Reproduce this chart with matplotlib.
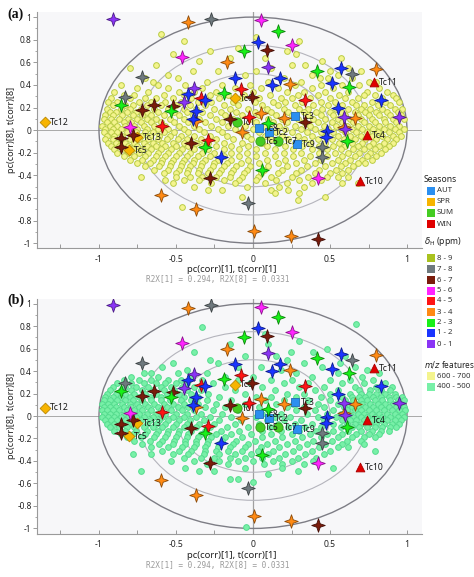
import numpy as np
import matplotlib
matplotlib.use('Agg')
import matplotlib.pyplot as plt
from matplotlib.path import Path
from matplotlib.patches import Circle, Rectangle
from matplotlib.ticker import MultipleLocator, FuncFormatter

plt.rcParams['font.family'] = ['Noto Sans', 'DejaVu Sans']
plt.rcParams['axes.unicode_minus'] = False

W, H = 474, 577

# ---------------- data ----------------
# background feature cloud, panel (a): m/z 600-700  (rows: y, list of x)
cloud_a_rows = [
    (0.85, [-0.60]), (0.82, [0.02]), (0.79, [-0.45, 0.30]), (0.73, [-0.10]),
    (0.70, [0.22, -0.28]), (0.67, [0.28, -0.52]), (0.64, [0.57, -0.15, 0.08]),
    (0.61, [-0.35, 0.45]), (0.58, [-0.63, 0.25, 0.34]), (0.55, [0.12, -0.80, 0.62]),
    (0.52, [-0.39, -0.23, 0.02, 0.50, 0.70]), (0.49, [-0.55, -0.05, 0.38, 0.55]),
    (0.46, [-0.70, -0.49, 0.20, 0.435, 0.49, 0.64]),
    (0.43, [-0.65, -0.30, 0.10, 0.31, 0.75, 0.80]),
    (0.40, [-0.86, -0.62, -0.44, -0.20, -0.02, 0.27, 0.44, 0.58, 0.69]),
    (0.37, [-0.755, -0.55, -0.33, -0.12, 0.05, 0.16, 0.38, 0.52, 0.82]),
    (0.34, [-0.90, -0.68, -0.48, -0.38, -0.24, 0.00, 0.22, 0.33, 0.47, 0.62, 0.74, 0.87]),
    (0.31, [-0.84, -0.77, -0.58, -0.45, -0.28, -0.16, -0.06, 0.11, 0.29, 0.42, 0.56, 0.72, 0.79, 0.91]),
    (0.28, [-0.92, -0.80, -0.70, -0.63, -0.52, -0.40, -0.22, -0.08, 0.04, 0.18, 0.25, 0.37, 0.50, 0.60, 0.68, 0.84, 0.93]),
    (0.25, [-0.94, -0.88, -0.74, -0.66, -0.57, -0.47, -0.36, -0.27, -0.13, 0.01, 0.13, 0.21, 0.32, 0.44, 0.53, 0.64, 0.77, 0.86, 0.95]),
    (0.22, [-0.91, -0.83, -0.78, -0.69, -0.60, -0.50, -0.41, -0.31, -0.19, -0.10, 0.06, 0.16, 0.27, 0.39, 0.49, 0.58, 0.67, 0.72, 0.81, 0.89]),
    (0.19, [-0.95, -0.86, -0.80, -0.73, -0.64, -0.55, -0.45, -0.37, -0.25, -0.15, -0.03, 0.09, 0.20, 0.30, 0.36, 0.45, 0.54, 0.62, 0.70, 0.76, 0.84, 0.92, 0.97]),
    (0.16, [-0.93, -0.89, -0.82, -0.76, -0.69, -0.62, -0.51, -0.43, -0.33, -0.21, -0.11, 0.01, 0.12, 0.23, 0.33, 0.41, 0.50, 0.57, 0.66, 0.73, 0.80, 0.87, 0.94]),
    (0.13, [-0.96, -0.91, -0.85, -0.78, -0.72, -0.66, -0.58, -0.48, -0.39, -0.28, -0.18, -0.07, 0.04, 0.15, 0.25, 0.36, 0.44, 0.52, 0.60, 0.68, 0.75, 0.82, 0.89, 0.96]),
    (0.10, [-0.97, -0.92, -0.87, -0.81, -0.75, -0.69, -0.63, -0.54, -0.45, -0.35, -0.24, -0.13, -0.02, 0.10, 0.19, 0.29, 0.39, 0.47, 0.55, 0.63, 0.70, 0.77, 0.85, 0.91, 0.98]),
    (0.07, [-0.95, -0.90, -0.84, -0.79, -0.73, -0.66, -0.60, -0.51, -0.42, -0.31, -0.20, -0.09, 0.02, 0.13, 0.22, 0.33, 0.42, 0.51, 0.58, 0.65, 0.72, 0.79, 0.86, 0.93]),
    (0.04, [-0.98, -0.93, -0.88, -0.83, -0.77, -0.71, -0.64, -0.57, -0.48, -0.38, -0.27, -0.16, -0.05, 0.07, 0.17, 0.27, 0.37, 0.46, 0.54, 0.61, 0.68, 0.75, 0.82, 0.89, 0.95]),
    (0.01, [-0.96, -0.91, -0.86, -0.81, -0.75, -0.69, -0.62, -0.55, -0.45, -0.35, -0.23, -0.12, 0.00, 0.11, 0.21, 0.31, 0.40, 0.49, 0.57, 0.64, 0.71, 0.78, 0.85, 0.92, 0.98]),
    (-0.02, [-0.97, -0.92, -0.88, -0.82, -0.76, -0.70, -0.65, -0.58, -0.51, -0.42, -0.32, -0.20, -0.08, 0.04, 0.15, 0.25, 0.35, 0.44, 0.52, 0.60, 0.67, 0.74, 0.81, 0.88, 0.95]),
    (-0.05, [-0.95, -0.90, -0.85, -0.79, -0.73, -0.67, -0.61, -0.54, -0.47, -0.38, -0.28, -0.17, -0.04, 0.08, 0.19, 0.29, 0.38, 0.47, 0.55, 0.63, 0.70, 0.77, 0.84, 0.91, 0.96]),
    (-0.08, [-0.96, -0.91, -0.86, -0.80, -0.74, -0.68, -0.62, -0.56, -0.49, -0.43, -0.34, -0.24, -0.13, -0.01, 0.12, 0.23, 0.33, 0.42, 0.51, 0.59, 0.66, 0.73, 0.80, 0.87, 0.93]),
    (-0.11, [-0.94, -0.89, -0.83, -0.77, -0.71, -0.65, -0.59, -0.52, -0.45, -0.37, -0.29, -0.19, -0.07, 0.06, 0.17, 0.27, 0.37, 0.47, 0.56, 0.64, 0.71, 0.78, 0.85, 0.91]),
    (-0.14, [-0.92, -0.87, -0.81, -0.75, -0.69, -0.63, -0.57, -0.50, -0.42, -0.33, -0.24, -0.14, -0.03, 0.09, 0.21, 0.32, 0.43, 0.52, 0.60, 0.68, 0.75, 0.82, 0.88]),
    (-0.17, [-0.90, -0.84, -0.78, -0.72, -0.66, -0.60, -0.53, -0.46, -0.38, -0.29, -0.19, -0.09, 0.02, 0.14, 0.26, 0.38, 0.48, 0.57, 0.65, 0.72, 0.79, 0.86]),
    (-0.20, [-0.88, -0.81, -0.74, -0.68, -0.62, -0.55, -0.48, -0.41, -0.33, -0.25, -0.14, -0.04, 0.08, 0.20, 0.31, 0.43, 0.53, 0.62, 0.69, 0.76, 0.83]),
    (-0.23, [-0.84, -0.77, -0.70, -0.63, -0.57, -0.50, -0.43, -0.36, -0.28, -0.19, -0.09, 0.02, 0.14, 0.26, 0.37, 0.48, 0.58, 0.66, 0.74, 0.80]),
    (-0.26, [-0.80, -0.72, -0.65, -0.59, -0.52, -0.45, -0.38, -0.31, -0.23, -0.14, -0.03, 0.09, 0.21, 0.33, 0.44, 0.55, 0.63, 0.71, 0.77]),
    (-0.29, [-0.75, -0.67, -0.60, -0.53, -0.46, -0.39, -0.33, -0.25, -0.17, -0.08, 0.04, 0.16, 0.28, 0.40, 0.51, 0.60, 0.68, 0.73]),
    (-0.32, [-0.70, -0.61, -0.54, -0.47, -0.41, -0.34, -0.26, -0.19, -0.11, -0.02, 0.10, 0.22, 0.35, 0.47, 0.57, 0.65]),
    (-0.35, [-0.64, -0.55, -0.48, -0.42, -0.35, -0.28, -0.21, -0.13, -0.04, 0.07, 0.19, 0.31, 0.43, 0.54, 0.62]),
    (-0.38, [-0.58, -0.50, -0.43, -0.36, -0.29, -0.22, -0.14, -0.06, 0.05, 0.16, 0.28, 0.40, 0.50, 0.58]),
    (-0.41, [-0.73, -0.50, -0.41, -0.33, -0.24, -0.15, -0.07, 0.03, 0.12, 0.25, 0.36, 0.48, 0.55, 0.62]),
    (-0.44, [-0.57, -0.45, -0.35, -0.19, -0.09, 0.02, 0.15, 0.30, 0.44]),
    (-0.47, [-0.52, -0.27, -0.12, 0.08, 0.22, 0.38, 0.58, 0.68]),
    (-0.50, [-0.38, -0.04, 0.17, 0.33]),
    (-0.53, [-0.29, -0.20, 0.12, 0.23]),
    (-0.56, [0.14, 0.30]),
    (-0.59, [-0.07, 0.47]),
    (-0.62, [0.29]),
    (-0.68, [-0.46]),
]

# background feature cloud, panel (b): m/z 400-500
cloud_b_rows = [
    (0.82, [0.67]), (0.79, [-0.33]), (0.73, [0.08]), (0.67, [0.30]),
    (0.64, [-0.15, 0.10]), (0.60, [0.48]), (0.57, [-0.38, 0.245, 0.39]),
    (0.53, [-0.05, 0.15, 0.60]), (0.50, [-0.28, 0.22]),
    (0.47, [-0.225, 0.33, 0.565, -0.52]), (0.44, [-0.59, -0.10, 0.05, 0.45, 0.66]),
    (0.41, [-0.43, 0.18, 0.74]),
    (0.38, [-0.66, -0.485, -0.71, -0.30, 0.28, 0.55, 0.82]),
    (0.35, [-0.79, -0.62, -0.40, -0.18, 0.00, 0.38, 0.705]),
    (0.32, [-0.84, -0.74, -0.66, -0.55, -0.47, -0.33, -0.10, 0.12, 0.25, 0.50, 0.63, 0.78]),
    (0.29, [-0.88, -0.79, -0.71, -0.63, -0.57, -0.50, -0.43, -0.26, -0.02, 0.20, 0.36, 0.58, 0.72, 0.86]),
    (0.26, [-0.91, -0.83, -0.76, -0.68, -0.60, -0.53, -0.46, -0.38, -0.18, 0.06, 0.30, 0.46, 0.66, 0.80, 0.90]),
    (0.23, [-0.93, -0.86, -0.79, -0.72, -0.65, -0.58, -0.51, -0.43, -0.34, -0.12, 0.14, 0.40, 0.55, 0.69, 0.76, 0.83, 0.89]),
    (0.20, [-0.95, -0.89, -0.83, -0.77, -0.70, -0.63, -0.56, -0.48, -0.40, -0.29, -0.05, 0.22, 0.33, 0.50, 0.63, 0.70, 0.75, 0.80, 0.86, 0.92]),
    (0.17, [-0.96, -0.91, -0.86, -0.80, -0.74, -0.67, -0.60, -0.53, -0.45, -0.36, -0.22, 0.02, 0.12, 0.28, 0.44, 0.58, 0.64, 0.69, 0.73, 0.78, 0.83, 0.88, 0.93, 0.97]),
    (0.14, [-0.97, -0.93, -0.88, -0.83, -0.78, -0.72, -0.66, -0.60, -0.54, -0.47, -0.40, -0.30, -0.14, 0.08, 0.20, 0.36, 0.50, 0.60, 0.65, 0.70, 0.74, 0.79, 0.84, 0.89, 0.94, 0.98]),
    (0.11, [-0.98, -0.94, -0.90, -0.85, -0.80, -0.75, -0.70, -0.64, -0.58, -0.52, -0.45, -0.36, -0.24, -0.05, 0.15, 0.26, 0.42, 0.55, 0.62, 0.67, 0.71, 0.76, 0.81, 0.86, 0.91, 0.96]),
    (0.08, [-0.97, -0.93, -0.89, -0.84, -0.79, -0.74, -0.68, -0.62, -0.56, -0.49, -0.42, -0.31, -0.18, 0.04, 0.22, 0.33, 0.46, 0.59, 0.64, 0.68, 0.73, 0.78, 0.83, 0.88, 0.93, 0.98]),
    (0.05, [-0.98, -0.95, -0.91, -0.87, -0.82, -0.77, -0.72, -0.66, -0.60, -0.53, -0.46, -0.38, -0.26, -0.10, 0.10, 0.28, 0.40, 0.52, 0.61, 0.66, 0.70, 0.75, 0.80, 0.85, 0.90, 0.95, 0.99]),
    (0.02, [-0.97, -0.93, -0.89, -0.84, -0.79, -0.74, -0.69, -0.63, -0.57, -0.50, -0.43, -0.34, -0.20, 0.06, 0.18, 0.35, 0.48, 0.57, 0.63, 0.68, 0.72, 0.77, 0.82, 0.87, 0.92, 0.97]),
    (-0.01, [-0.98, -0.94, -0.90, -0.86, -0.81, -0.76, -0.71, -0.65, -0.59, -0.52, -0.45, -0.37, -0.28, -0.14, 0.02, 0.14, 0.24, 0.42, 0.54, 0.60, 0.65, 0.70, 0.74, 0.79, 0.84, 0.89, 0.94, 0.98]),
    (-0.04, [-0.96, -0.92, -0.88, -0.83, -0.78, -0.73, -0.67, -0.61, -0.55, -0.48, -0.41, -0.32, -0.22, -0.08, 0.09, 0.20, 0.31, 0.46, 0.58, 0.63, 0.67, 0.72, 0.77, 0.82, 0.87, 0.92, 0.96]),
    (-0.07, [-0.95, -0.90, -0.85, -0.80, -0.75, -0.69, -0.63, -0.57, -0.50, -0.43, -0.35, -0.25, -0.12, 0.04, 0.16, 0.27, 0.38, 0.52, 0.61, 0.66, 0.70, 0.75, 0.80, 0.85, 0.90, 0.95]),
    (-0.10, [-0.93, -0.87, -0.82, -0.77, -0.71, -0.65, -0.59, -0.52, -0.45, -0.37, -0.28, -0.17, -0.03, 0.11, 0.23, 0.34, 0.44, 0.57, 0.64, 0.69, 0.74, 0.79, 0.84, 0.89, 0.93]),
    (-0.13, [-0.90, -0.83, -0.76, -0.69, -0.62, -0.55, -0.48, -0.40, -0.31, -0.21, -0.09, 0.06, 0.18, 0.30, 0.41, 0.52, 0.62, 0.70, 0.77, 0.83, 0.88]),
    (-0.16, [-0.86, -0.78, -0.70, -0.63, -0.56, -0.49, -0.42, -0.34, -0.24, -0.14, -0.01, 0.12, 0.25, 0.37, 0.48, 0.58, 0.67, 0.75, 0.82]),
    (-0.19, [-0.82, -0.73, -0.64, -0.57, -0.50, -0.43, -0.36, -0.27, -0.18, -0.07, 0.06, 0.19, 0.32, 0.44, 0.55, 0.64, 0.72, 0.79]),
    (-0.22, [-0.77, -0.67, -0.59, -0.51, -0.44, -0.37, -0.29, -0.20, -0.11, 0.01, 0.14, 0.27, 0.39, 0.51, 0.61, 0.70]),
    (-0.25, [-0.72, -0.61, -0.52, -0.44, -0.37, -0.30, -0.22, -0.13, -0.03, 0.09, 0.22, 0.35, 0.47, 0.58, 0.72]),
    (-0.28, [-0.66, -0.55, -0.46, -0.38, -0.31, -0.23, -0.15, -0.05, 0.05, 0.17, 0.30, 0.43, 0.55, 0.62]),
    (-0.31, [-0.59, -0.48, -0.40, -0.31, -0.24, -0.16, -0.07, 0.03, 0.13, 0.26, 0.38, 0.50, 0.79]),
    (-0.34, [-0.78, -0.66, -0.52, -0.42, -0.32, -0.22, -0.12, -0.01, 0.10, 0.21, 0.34, 0.46]),
    (-0.37, [-0.45, -0.34, -0.25, -0.15, -0.05, 0.06, 0.17, 0.29, 0.41]),
    (-0.40, [-0.53, -0.38, -0.22, -0.10, 0.00, 0.13, 0.25, 0.39]),
    (-0.43, [-0.30, -0.16, 0.07, 0.19, 0.33]),
    (-0.46, [-0.44, 0.52, 0.19, -0.05]),
    (-0.49, [-0.73, -0.35, -0.25, 0.295]),
    (-0.52, [0.10]),
    (-0.56, [-0.10, -0.15]),
    (-0.59, [0.00]),
    (-0.99, [-0.045]),
]

# delta-H classes (stars)
dh_classes = ['8 - 9', '7 - 8', '6 - 7', '5 - 6', '4 - 5', '3 - 4', '2 - 3', '1 - 2', '0 - 1']
dh_colors = ['#a9c21f', '#6f797e', '#7a1c0c', '#ff24ff', '#ff1414', '#ff8a14', '#18f018', '#1a34ff', '#8a34f5']
dh_points = {
    '8 - 9': [],
    '7 - 8': [(-0.27, 0.985), (-0.72, 0.47), (-0.83, 0.29), (0.645, 0.50), (0.45, -0.15),
              (0.45, -0.24), (-0.03, -0.64)],
    '6 - 7': [(-0.72, 0.18), (-0.64, 0.22), (-0.52, 0.21), (-0.15, 0.10), (-0.86, -0.07),
              (-0.78, -0.04), (-0.86, -0.15), (-0.40, -0.11), (-0.28, -0.42), (0.09, 0.71),
              (-0.005, 0.295), (0.34, 0.07), (0.425, -0.965)],
    '5 - 6': [(-0.46, 0.65), (-0.80, 0.03), (0.05, 0.97), (0.255, 0.75), (0.42, -0.42)],
    '4 - 5': [(-0.34, 0.28), (-0.08, 0.365), (-0.59, 0.04), (-0.29, -0.09), (0.335, 0.27),
              (-0.025, 0.12)],
    '3 - 4': [(-0.42, 0.96), (-0.17, 0.60), (-0.60, -0.57), (-0.37, -0.70), (0.24, 0.41),
              (0.80, 0.54), (0.055, 0.15), (0.20, 0.11), (0.665, 0.11), (0.59, 0.03),
              (-0.07, -0.015), (0.005, -0.89), (0.245, -0.935), (-0.37, 0.08)],
    '2 - 3': [(-0.19, 0.33), (-0.86, 0.22), (-0.53, 0.165), (-0.31, -0.15), (0.16, 0.88),
              (-0.06, 0.70), (0.415, 0.52), (0.625, 0.38), (0.095, 0.065), (0.61, -0.10),
              (0.06, -0.35)],
    '1 - 2': [(-0.12, 0.46), (-0.42, 0.32), (-0.31, 0.27), (-0.37, 0.17), (-0.39, 0.10),
              (-0.21, -0.24), (0.035, 0.78), (0.175, 0.46), (0.125, 0.40), (0.57, 0.55),
              (0.51, 0.42), (0.83, 0.27), (0.555, 0.20), (0.48, -0.005), (0.475, -0.06)],
    '0 - 1': [(-0.91, 0.985), (-0.38, 0.37), (-0.45, 0.25), (0.10, 0.56), (0.59, 0.12),
              (0.60, 0.01), (0.95, 0.12)],
}

# seasons (labelled samples)
season_names = ['AUT', 'SPR', 'SUM', 'WIN']
season_colors = ['#2b8ff0', '#f7b400', '#44cc22', '#e00000']
season_markers = ['s', 'D', 'o', '^']
season_points = {
    'AUT': [('Tc8', 0.04, 0.02), ('Tc2', 0.105, -0.015), ('Tc3', 0.275, 0.125), ('Tc9', 0.285, -0.12)],
    'SPR': [('Tc12', -1.35, 0.075), ('Tc13', -0.75, -0.06), ('Tc5', -0.805, -0.175), ('Tc6', -0.12, 0.28)],
    'SUM': [('Tc1', -0.105, 0.07), ('Tc5', 0.045, -0.10), ('Tc7', 0.165, -0.10)],
    'WIN': [('Tc4', 0.74, -0.04), ('Tc11', 0.785, 0.425), ('Tc10', 0.695, -0.45)],
}

mz_names = ['600 - 700', '400 - 500']
mz_colors = ['#f4f48e', '#78f0a8']
mz_edges = ['#b9cc44', '#55dc8e']

x_ticks = [-1, -0.5, 0, 0.5, 1]
y_ticks = [-1, -0.8, -0.6, -0.4, -0.2, 0, 0.2, 0.4, 0.6, 0.8, 1]
circle_radii = [1.0, 0.75, 0.5]

xlabel_text = 'pc(corr)[1], t(corr)[1]'
ylabel_text = 'pc(corr)[8], t(corr)[8]'
r2x_text = 'R2X[1] = 0.294, R2X[8] = 0.0331'

# ---------------- helpers ----------------
def darker(c, f=0.6):
    r, g, b = matplotlib.colors.to_rgb(c)
    return (r * f, g * f, b * f)

star = Path.unit_regular_star(4, innerCircle=0.36)

def fx(px):
    return px / W

def fy(py):
    return 1 - py / H

fig = plt.figure(figsize=(W / 100, H / 100), dpi=100)

x_left_px, x_right_px = 37.4, 422.4

def draw_panel(top_px, bottom_px, rows, fc, ec, label, xlab_py, r2_py, zero_py):
    ax = fig.add_axes([fx(x_left_px), fy(bottom_px), (x_right_px - x_left_px) / W,
                       (bottom_px - top_px) / H])
    ax.set_facecolor('#f7f7f9')
    ax.set_xlim(-1.40, 1.10)
    ax.set_ylim(-1.045, 1.045)
    for s in ['top', 'right']:
        ax.spines[s].set_visible(False)
    for s in ['left', 'bottom']:
        ax.spines[s].set_color('#9a9a9a')
        ax.spines[s].set_linewidth(0.8)
    ax.axhline(0, color='#a8a8a8', lw=0.7, zorder=1)
    ax.axvline(0, color='#a0a0a0', lw=0.9, zorder=1)
    for r in circle_radii:
        col = '#7d7d85' if r == 1.0 else '#b4b4bc'
        lw = 1.0 if r == 1.0 else 0.8
        ax.add_patch(Circle((0, 0), r, fill=False, edgecolor=col, lw=lw, zorder=1.5))

    cx = [x for y, xs in rows for x in xs]
    cy = [y for y, xs in rows for x in xs]
    ax.scatter(cx, cy, s=17, facecolor=fc, edgecolor=ec, linewidth=0.7, zorder=2)

    # labelled season samples
    for name, col, mk in zip(season_names, season_colors, season_markers):
        pts = season_points[name]
        sz = {'s': 40, 'D': 30, 'o': 44, '^': 40}[mk]
        ax.scatter([p[1] for p in pts], [p[2] for p in pts], s=sz, marker=mk,
                   facecolor=col, edgecolor=darker(col, 0.75), linewidth=0.6, zorder=3)
        for lab, x, y in pts:
            ax.annotate(lab, (x, y), xytext=(3.8, -0.3), textcoords='offset points',
                        ha='left', va='center', fontsize=6.2, fontweight='bold',
                        color='#151515', zorder=3.5)

    # delta-H stars
    for cls, col in zip(dh_classes, dh_colors):
        pts = dh_points[cls]
        if not pts:
            continue
        ax.scatter([p[0] for p in pts], [p[1] for p in pts], s=95, marker=star,
                   facecolor=col, edgecolor=darker(col, 0.55), linewidth=0.6, zorder=4)

    ax.set_xticks(x_ticks)
    ax.xaxis.set_minor_locator(MultipleLocator(0.25))
    ax.set_yticks(y_ticks)
    ax.yaxis.set_minor_locator(MultipleLocator(0.1))
    fmt = FuncFormatter(lambda v, p: '%g' % round(v, 2))
    ax.xaxis.set_major_formatter(fmt)
    ax.yaxis.set_major_formatter(fmt)
    ax.tick_params(axis='x', direction='in', length=3, width=0.7, color='#9a9a9a',
                   labelsize=6.2, pad=5, labelcolor='#222222')
    ax.tick_params(axis='x', which='minor', direction='in', length=3, width=0.7, color='#9a9a9a')
    ax.tick_params(axis='y', direction='out', length=3, width=0.7, color='#9a9a9a',
                   labelsize=6.0, pad=1.2, labelcolor='#222222')
    ax.tick_params(axis='y', which='minor', direction='out', length=1.8, width=0.6, color='#9a9a9a')

    fig.text(fx(232), fy(xlab_py), xlabel_text, ha='center', va='center', fontsize=6.8,
             color='#222222')
    fig.text(fx(218), fy(r2_py), r2x_text, ha='center', va='center', fontsize=5.6,
             color='#9a9a9a', family='DejaVu Sans Mono')
    fig.text(fx(11.5), fy(zero_py), ylabel_text, ha='center', va='center', fontsize=6.5,
             rotation=90, color='#222222')
    fig.text(fx(7), fy(top_px + 2), label, ha='left', va='center', fontsize=10,
             fontweight='bold', family='Liberation Serif', color='#111111')
    return ax

draw_panel(12, 248.3, cloud_a_rows, mz_colors[0], mz_edges[0], '(a)', 269.5, 279.5, 130)
draw_panel(298.5, 533.5, cloud_b_rows, mz_colors[1], mz_edges[1], '(b)', 555, 565.5, 416)

# ---------------- legend ----------------
sq_x = 427
sq = 8
txt_x = 437

def legend_item(py, col, text):
    fig.add_artist(Rectangle((fx(sq_x), fy(py + sq / 2)), sq / W, sq / H,
                             transform=fig.transFigure, facecolor=col,
                             edgecolor='none', lw=0))
    fig.text(fx(txt_x), fy(py), text, ha='left', va='center', fontsize=5.6, color='#333333')

fig.text(fx(424), fy(180), 'Seasons', ha='left', va='center', fontsize=6.2, color='#222222')
for name, col, py in zip(season_names, season_colors, [191, 202, 213, 224]):
    legend_item(py, col, name)

fig.text(fx(424), fy(242), r'$\delta_{\rm H}$ (ppm)', ha='left', va='center', fontsize=6.2,
         color='#222222')
for cls, col, py in zip(dh_classes, dh_colors, [258.5, 269, 280, 290.5, 301, 312, 322.5, 333, 344]):
    legend_item(py, col, cls)

fig.text(fx(424), fy(364), r'$m/z$ features', ha='left', va='center', fontsize=5.9,
         color='#222222')
for name, col, py in zip(mz_names, mz_colors, [376, 387]):
    legend_item(py, col, name)

fig.savefig('out.png', dpi=100)
